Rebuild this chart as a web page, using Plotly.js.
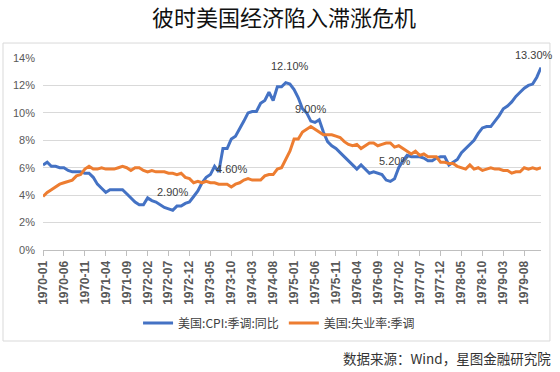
<!DOCTYPE html>
<html><head><meta charset="utf-8">
<script src="https://cdn.plot.ly/plotly-3.0.1.min.js"></script>
<style>html,body{margin:0;padding:0;background:#fff}#chart{width:560px;height:372px}</style>
</head><body><div id="chart"></div>
<script>
const years = [1970,1971,1972,1973,1974,1975,1976,1977,1978,1979];
const months = [];
years.forEach(y => { for (let m = 1; m <= 12; m++) months.push(y + '-' + (m < 10 ? '0' + m : m)); });

// 美国:CPI:季调:同比 (%)
const cpi = [
 6.2,6.4,6.1,6.1,6.0,6.0,5.8,5.7,5.7,5.7,5.6,5.6,
 5.3,4.8,4.5,4.2,4.4,4.4,4.4,4.4,4.1,3.8,3.5,3.3,
 3.3,3.8,3.6,3.5,3.3,3.1,3.0,2.9,3.2,3.2,3.4,3.5,
 3.9,4.3,4.9,5.3,5.5,6.1,5.7,7.4,7.4,8.1,8.3,8.8,
 9.4,10.0,10.1,10.1,10.7,10.9,11.5,10.9,11.9,11.9,12.2,12.1,
 11.7,11.1,10.3,10.0,9.4,9.3,9.5,8.6,7.9,7.6,7.4,7.1,
 6.8,6.5,6.2,5.9,6.2,5.9,5.6,5.7,5.6,5.5,5.1,5.0,
 5.2,6.0,6.5,6.9,6.8,6.8,6.8,6.7,6.5,6.5,6.7,6.8,
 6.8,6.2,6.4,6.6,7.1,7.4,7.7,8.0,8.5,8.9,9.0,9.0,
 9.4,9.8,10.3,10.5,10.8,11.2,11.5,11.8,12.0,12.1,12.6,13.3
];
// 美国:失业率:季调 (%)
const unemp = [
 3.9,4.2,4.4,4.6,4.8,4.9,5.0,5.1,5.4,5.5,5.9,6.1,
 5.9,5.9,6.0,5.9,5.9,5.9,6.0,6.1,6.0,5.8,6.0,6.0,
 5.8,5.7,5.8,5.7,5.7,5.7,5.6,5.6,5.5,5.6,5.3,5.2,
 4.9,5.0,4.9,5.0,4.9,4.9,4.8,4.8,4.8,4.6,4.8,4.9,
 5.1,5.2,5.1,5.1,5.1,5.4,5.5,5.5,5.9,6.0,6.6,7.2,
 8.1,8.1,8.6,8.8,9.0,8.8,8.6,8.4,8.4,8.4,8.3,8.2,
 7.9,7.7,7.6,7.7,7.4,7.6,7.8,7.8,7.6,7.7,7.8,7.8,
 7.5,7.6,7.4,7.2,7.0,7.2,6.9,7.0,6.8,6.8,6.8,6.4,
 6.4,6.3,6.3,6.1,6.0,5.9,6.2,5.9,6.0,5.8,5.9,6.0,
 5.9,5.9,5.8,5.8,5.6,5.7,5.7,6.0,5.9,6.0,5.9,6.0
];
const tickLabels = ['1970-01','1970-06','1970-11','1971-04','1971-09','1972-02','1972-07','1972-12',
 '1973-05','1973-10','1974-03','1974-08','1975-01','1975-06','1975-11','1976-04','1976-09',
 '1977-02','1977-07','1977-12','1978-05','1978-10','1979-03','1979-08'];
const yTicks = [0,2,4,6,8,10,12,14];
const cpiLabelAt = ['1972-08','1974-12','1977-01','1979-12'];
const unempLabelAt = ['1973-10','1975-05'];

const annotations = [];
function addLabels(cats, series) {
  cats.forEach(c => {
    const i = months.indexOf(c);
    const last = i === months.length - 1;
    annotations.push({x: c, y: series[i], xref: 'x', yref: 'y', text: series[i].toFixed(2) + '%',
      showarrow: false, yshift: last ? 13 : 18, xshift: last ? -7 : 0,
      font: {size: 11, color: '#404040', family: 'Liberation Sans, Arial'}});
  });
}
addLabels(cpiLabelAt, cpi);
addLabels(unempLabelAt, unemp);
annotations.push({xref: 'paper', yref: 'paper', x: 1.024, y: -0.5625, xanchor: 'right', yanchor: 'middle',
  text: '数据来源：Wind，星图金融研究院', showarrow: false,
  font: {size: 13.5, color: '#333333', family: 'Noto Sans CJK SC'}});

const traces = [
  {type: 'scatter', mode: 'lines', name: '美国:CPI:季调:同比', x: months, y: cpi,
   line: {color: '#4472C4', width: 3}},
  {type: 'scatter', mode: 'lines', name: '美国:失业率:季调', x: months, y: unemp,
   line: {color: '#ED7D31', width: 3}}
];

const layout = {
  width: 560, height: 372,
  margin: {l: 43, r: 19, t: 58, b: 122},
  paper_bgcolor: '#ffffff', plot_bgcolor: '#ffffff',
  title: {text: '彼时美国经济陷入滞涨危机', x: 0.507, xanchor: 'center', y: 0.952, yanchor: 'middle',
    font: {size: 22, color: '#111111', family: 'Noto Sans CJK SC'}},
  showlegend: true,
  legend: {orientation: 'h', x: 0.474, xanchor: 'center', y: -0.38, yanchor: 'middle',
    font: {size: 12, color: '#404040', family: 'Noto Sans CJK SC'}, itemwidth: 30, bgcolor: 'rgba(0,0,0,0)'},
  xaxis: {type: 'category', range: [0, months.length - 1], tickmode: 'array', tickvals: tickLabels, ticktext: tickLabels,
    tickangle: -90, ticks: 'outside', ticklen: 5, tickcolor: '#bfbfbf', showline: true, linecolor: '#bfbfbf',
    showgrid: false, zeroline: false, fixedrange: true,
    tickfont: {size: 12, color: '#595959', family: 'Liberation Sans, Arial', weight: 'bold'}},
  yaxis: {range: [0, 14], tickmode: 'array', tickvals: yTicks, ticktext: yTicks.map(v => v + '%'),
    showgrid: true, gridcolor: '#d9d9d9', gridwidth: 1, zeroline: false, showline: false, ticks: '',
    ticklabelstandoff: 7, fixedrange: true,
    tickfont: {size: 11, color: '#595959', family: 'Liberation Sans, Arial'}},
  shapes: [{type: 'rect', xref: 'paper', yref: 'paper', x0: -0.0803, x1: 1.018, y0: -0.474, y1: 1.078,
    line: {color: '#d9d9d9', width: 1}, fillcolor: 'rgba(0,0,0,0)', layer: 'below'}],
  annotations: annotations
};

Plotly.newPlot('chart', traces, layout, {displayModeBar: false, staticPlot: true});
</script></body></html>
